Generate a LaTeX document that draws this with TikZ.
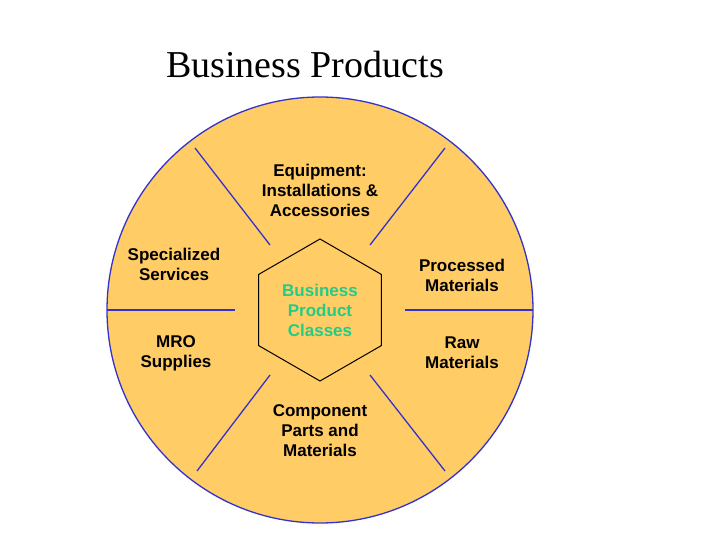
\documentclass[tikz,border=0pt]{standalone}
\usepackage{fontspec}
\setmainfont{Liberation Serif}
\setsansfont{Liberation Sans}
\usetikzlibrary{shapes.geometric, positioning}
\definecolor{wheel}{HTML}{FFCC66}
\definecolor{rim}{HTML}{3333CC}
\definecolor{hub}{HTML}{22CC88}
\tikzset{
    sector/.style={font=\sffamily\bfseries\fontsize{17}{20}\selectfont, align=center},
    spoke/.style={draw=rim, line width=1.3pt}
}
\begin{document}
\begin{tikzpicture}[x=1pt, y=-1pt]
    \useasboundingbox (0,0) rectangle (720,540);
    \node (title) at (305,65) {\fontsize{38}{44}\selectfont Business Products};
    \draw[spoke, fill=wheel] (320,310) circle (213);
    \node[regular polygon, regular polygon sides=6, shape border rotate=30,
        draw=black, line width=1pt, minimum size=142pt, inner sep=0pt]
        (hub) at (320,310) {};
    \node[sector, text=hub] (hubtext) at (hub) {Business\\Product\\Classes};
    % spokes
    \coordinate (a1) at (195,148); \coordinate (a2) at (270,245);
    \coordinate (b1) at (445,148); \coordinate (b2) at (370,245);
    \coordinate (c1) at (107,310); \coordinate (c2) at (235,310);
    \coordinate (d1) at (533,310); \coordinate (d2) at (405,310);
    \coordinate (e1) at (197,471); \coordinate (e2) at (270,375);
    \coordinate (f1) at (445,471); \coordinate (f2) at (370,375);
    \foreach \s in {a,b,c,d,e,f} \draw[spoke] (\s1) -- (\s2);
    % sectors
    \node[sector] (equip) at (320,190) {Equipment:\\Installations \&\\Accessories};
    \node[sector] (spec) at (174,264) {Specialized\\Services};
    \node[sector] (proc) at (462,275) {Processed\\Materials};
    \node[sector] (mro) at (176,353) {MRO\\Supplies};
    \node[sector] (raw) at (462,353) {Raw\\Materials};
    \node[sector] (comp) at (320,431) {Component\\Parts and\\Materials};
\end{tikzpicture}
\end{document}
